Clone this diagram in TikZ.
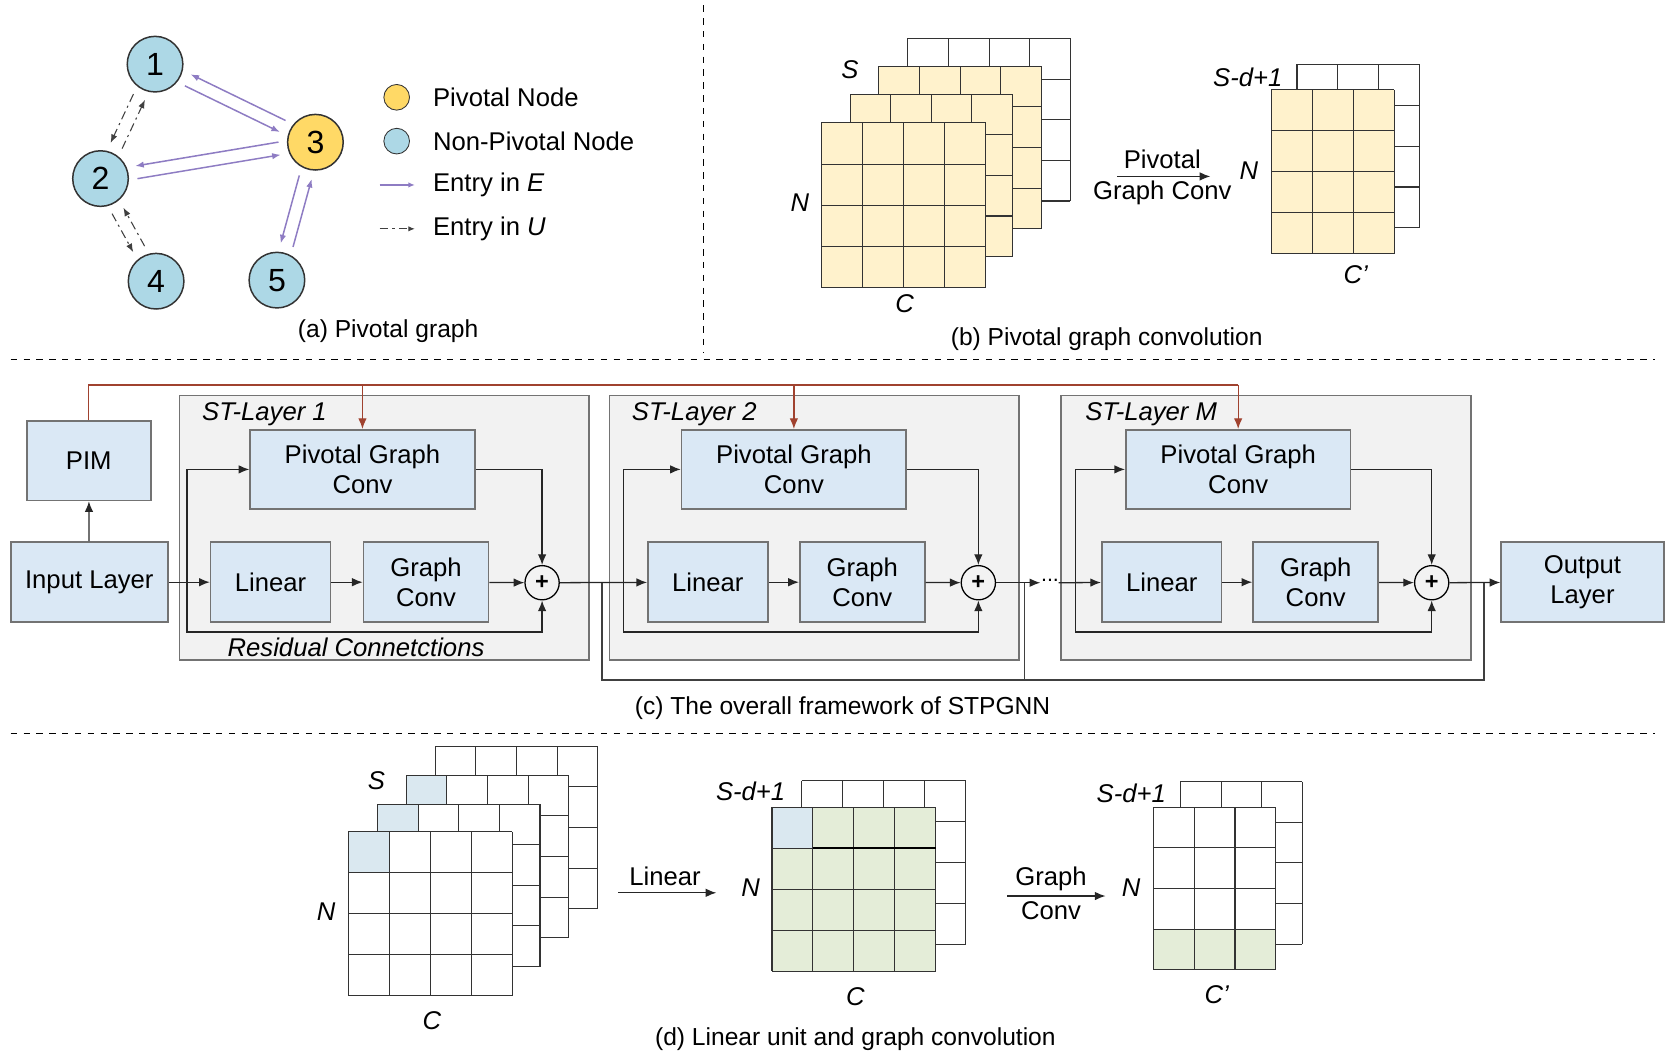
\documentclass[tikz,border=0pt]{standalone}
\usepackage{fontspec}
\setmainfont{Liberation Sans}
\usetikzlibrary{arrows.meta,calc}
\definecolor{nblue}{HTML}{ADD8E6}
\definecolor{nyel}{HTML}{FFD966}
\definecolor{bblue}{HTML}{DAE8F5}
\definecolor{gfill}{HTML}{F2F2F2}
\definecolor{cyel}{HTML}{FFF2CC}
\definecolor{cgreen}{HTML}{E4EDD8}
\definecolor{cblue}{HTML}{DAE8F0}
\definecolor{ppl}{HTML}{8E7CC3}
\definecolor{rline}{HTML}{A0422F}
\newcommand\gridat[6]{%
  \fill[#6] (#1,#2) rectangle ({#1+#3*#5},{#2+#4*#5});
  \foreach \i in {0,...,#3}{\draw[gl] ({#1+\i*#5},#2) -- ({#1+\i*#5},{#2+#4*#5});}
  \foreach \j in {0,...,#4}{\draw[gl] (#1,{#2+\j*#5}) -- ({#1+#3*#5},{#2+\j*#5});}
}
\begin{document}
\begin{tikzpicture}[x=0.5pt,y=-0.5pt,
  gl/.style={draw=black!80,line width=0.5pt},
  circ/.style={circle,draw=black!80,line width=0.7pt,minimum size=26pt,inner sep=0pt,font=\fontsize{15}{15}\selectfont},
  box/.style={draw=black!55,line width=0.8pt,fill=bblue,align=center,font=\fontsize{12}{14}\selectfont,inner sep=0pt},
  lay/.style={draw=black!55,line width=0.8pt,fill=gfill},
  arr/.style={-{Latex[length=5pt,width=4pt]},line width=0.6pt,draw=black!85},
  parr/.style={-{Latex[length=4pt,width=3pt]},line width=0.7pt,draw=ppl,shorten <=4pt,shorten >=4pt},
  darr/.style={-{Latex[length=4pt,width=3pt]},line width=0.5pt,draw=black!75,dash pattern=on 4pt off 2pt on 1pt off 2pt,shorten <=4pt,shorten >=4pt},
  rarr/.style={-{Latex[length=5pt,width=4pt]},line width=0.6pt,draw=rline},
  plus/.style={circle,draw=black,line width=0.6pt,minimum size=16pt,inner sep=0pt,font=\bfseries\fontsize{11}{11}\selectfont},
  lbl/.style={font=\fontsize{12}{14}\selectfont},
  ilbl/.style={font=\itshape\fontsize{12}{14}\selectfont},
  captxt/.style={font=\fontsize{11.5}{13}\selectfont}]
\useasboundingbox (0,0) rectangle (1560,995);
% separators
\draw[dashed,line width=0.6pt] (658,5) -- (658,330);
\draw[dashed,line width=0.6pt] (10,336) -- (1548,336);
\draw[dashed,line width=0.6pt] (10,686) -- (1548,686);
% ---------- (a)
\node[circ,fill=nblue] (n1) at (145,60) {1};
\node[circ,fill=nblue] (n2) at (94,167) {2};
\node[circ,fill=nyel] (n3) at (295,133) {3};
\node[circ,fill=nblue] (n4) at (146,263) {4};
\node[circ,fill=nblue] (n5) at (259,262) {5};
\draw[parr] (n3.141) -- (n1.-13);
\draw[parr] (n1.-39) -- (n3.167);
\draw[parr] (n3.177) -- (n2.23);
\draw[parr] (n2.-3) -- (n3.203);
\draw[parr] (n3.241) -- (n5.87);
\draw[parr] (n5.61) -- (n3.267);
\draw[darr] (n1.231) -- (n2.77);
\draw[darr] (n2.51) -- (n1.257);
\draw[darr] (n2.285) -- (n4.131);
\draw[darr] (n4.105) -- (n2.311);
\node[circle,draw=black!80,fill=nyel,minimum size=12pt,inner sep=0pt] (lg1) at (371,91) {};
\node[circle,draw=black!80,fill=nblue,minimum size=12pt,inner sep=0pt] (lg2) at (371,132) {};
\node[lbl,anchor=west] (lt1) at (398,91) {Pivotal Node};
\node[lbl,anchor=west] (lt2) at (398,132) {Non-Pivotal Node};
\coordinate (le1) at (355,173); \coordinate (le2) at (388,173);
\draw[-{Latex[length=3pt,width=2.5pt]},draw=ppl,line width=0.7pt] (le1) -- (le2);
\node[lbl,anchor=west] (lt3) at (398,173) {Entry in \textit{E}};
\coordinate (lu1) at (355,214); \coordinate (lu2) at (388,214);
\draw[-{Latex[length=3pt,width=2.5pt]},draw=black!75,line width=0.5pt,dash pattern=on 4pt off 2pt on 1pt off 2pt] (lu1) -- (lu2);
\node[lbl,anchor=west] (lt4) at (398,214) {Entry in \textit{U}};
\node[captxt] (capa) at (363,310) {(a) Pivotal graph};
% ---------- (b)
\gridat{849}{36}{4}{4}{38}{white}
\gridat{822}{62}{4}{4}{38}{cyel}
\gridat{795}{88}{4}{4}{38}{cyel}
\gridat{768}{115}{4}{4}{38.5}{cyel}
\node[ilbl] (bS) at (795,65) {S};
\node[ilbl] (bN) at (748,190) {N};
\node[ilbl] (bC) at (846,284) {C};
\coordinate (ba1) at (1045,165); \coordinate (ba2) at (1132,165);
\draw[arr] (ba1) -- (ba2);
\node[lbl] (bt1) at (1087,149) {Pivotal};
\node[lbl] (bt2) at (1087,180) {Graph Conv};
\gridat{1213}{60}{3}{4}{38.3}{white}
\gridat{1189}{84}{3}{4}{38.3}{cyel}
\node[ilbl] (bS2) at (1167,72) {S-d+1};
\node[ilbl] (bN2) at (1168,160) {N};
\node[ilbl] (bC2) at (1268,257) {C’};
\node[captxt] (capb) at (1035,317) {(b) Pivotal graph convolution};
% ---------- (c)
\draw[lay] (168,370) rectangle (551,617);
\draw[lay] (570,370) rectangle (953,617);
\draw[lay] (992,370) rectangle (1376,617);
\node[ilbl,anchor=west] (st1) at (182,387) {ST-Layer 1};
\node[ilbl,anchor=west] (st2) at (584,387) {ST-Layer 2};
\node[ilbl,anchor=west] (st3) at (1008,387) {ST-Layer M};
\node[box,minimum width=73.5pt,minimum height=37.5pt] (inp) at (83.5,544.5) {Input Layer};
\node[box,minimum width=58pt,minimum height=37pt] (pim) at (83,431) {PIM};
\node[box,minimum width=76pt,minimum height=37.5pt] (out) at (1480,544.5) {Output\\Layer};
\foreach \k/\px/\lx/\gx/\sx/\rx in {1/339/253/398.5/507/175, 2/742.5/662/806.5/915/583, 3/1158/1086.5/1230.5/1339/1006}{
  \node[box,minimum width=105pt,minimum height=37pt] (pgc\k) at (\px,439) {Pivotal Graph\\Conv};
  \node[box,minimum width=56pt,minimum height=37.5pt] (lin\k) at (\lx,544.5) {Linear};
  \node[box,minimum width=58.5pt,minimum height=37.5pt] (gc\k) at (\gx,544.5) {Graph\\Conv};
  \node[plus] (p\k) at (\sx,545) {+};
  \coordinate (r\k) at (\rx,545);
  \coordinate (rb\k) at (\rx,591);
  \draw[arr] (lin\k) -- (gc\k);
  \draw[arr] (gc\k) -- (p\k);
  \draw[arr] (pgc\k.east) -| (p\k.north);
  \draw[arr] (r\k) |- (pgc\k.west);
  \draw[arr] (r\k) -- (rb\k) -| (p\k.south);
}
\node[ilbl] (resl) at (333,605) {Residual Connetctions};
\draw[arr] (inp) -- (pim);
\draw[arr] (inp) -- (lin1);
\draw[arr] (p1) -- (lin2);
\coordinate (dt1) at (973,545); \coordinate (dt2) at (990,545);
\draw[arr] (p2) -- (dt1);
\node[font=\fontsize{10}{10}\selectfont,inner sep=0pt] (dots) at (982,543) {...};
\draw[arr] (dt2) -- (lin3);
\draw[arr] (p3) -- (out);
% skip lines
\coordinate (s1) at (563,545); \coordinate (s1b) at (563,636);
\coordinate (s2) at (958,545); \coordinate (s2b) at (958,636);
\coordinate (s3) at (1388,545); \coordinate (s3b) at (1388,636);
\draw[line width=0.6pt,draw=black!75] (s1) -- (s1b) -- (s3b) -- (s3);
\draw[line width=0.6pt,draw=black!75] (s2) -- (s2b);
% red PIM lines
\coordinate (rt) at (1158,360);
\draw[line width=0.6pt,draw=rline] (pim.north) |- (rt);
\foreach \k in {1,2,3}{\draw[rarr] (pgc\k.north|-rt) -- (pgc\k.north);}
\node[captxt] (capc) at (788,662) {(c) The overall framework of STPGNN};
% ---------- (d)
\gridat{407}{698}{4}{4}{38}{white}
\gridat{380}{725}{4}{4}{38}{white}
\fill[cblue] (380,725) rectangle ++(38,38); \draw[gl] (380,725) rectangle ++(38,38);
\gridat{353}{752}{4}{4}{38}{white}
\fill[cblue] (353,752) rectangle ++(38,38); \draw[gl] (353,752) rectangle ++(38,38);
\gridat{326}{778}{4}{4}{38.3}{white}
\fill[cblue] (326,778) rectangle ++(38.3,38.3); \draw[gl] (326,778) rectangle ++(38.3,38.3);
\node[ilbl] (dS) at (352,730) {S};
\node[ilbl] (dN) at (305,853) {N};
\node[ilbl] (dC) at (404,955) {C};
\coordinate (da1) at (578,835); \coordinate (da2) at (670,835);
\draw[arr] (da1) -- (da2);
\node[lbl] (dt1l) at (622,820) {Linear};
\gridat{750}{730}{4}{4}{38.3}{white}
\gridat{722}{755}{4}{4}{38.3}{cgreen}
\fill[cblue] (722,755) rectangle ++(38.3,38.3); \draw[gl] (722,755) rectangle ++(38.3,38.3);
\draw[line width=1pt] (760.3,793.3) -- (875.2,793.3);
\node[ilbl] (dS2) at (702,740) {S-d+1};
\node[ilbl] (dN2) at (702,830) {N};
\node[ilbl] (dC2) at (800,932) {C};
\coordinate (db1) at (942,838); \coordinate (db2) at (1034,838);
\draw[arr] (db1) -- (db2);
\node[lbl] (dg1) at (983,822) {Graph};
\node[lbl] (dg2) at (983,852) {Conv};
\gridat{1104}{731}{3}{4}{38}{white}
\gridat{1079}{755}{3}{4}{38}{white}
\fill[cgreen] (1079,869) rectangle ++(114,38);
\gridat{1079}{755}{3}{4}{38}{white,opacity=0}
\node[ilbl] (dS3) at (1058,742) {S-d+1};
\node[ilbl] (dN3) at (1058,830) {N};
\node[ilbl] (dC3) at (1138,930) {C’};
\node[captxt] (capd) at (800,972) {(d) Linear unit and graph convolution};
\end{tikzpicture}
\end{document}
